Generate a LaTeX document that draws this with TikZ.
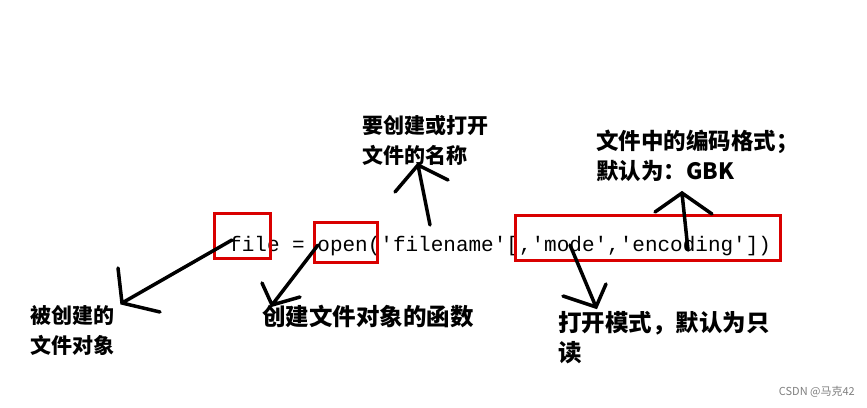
\documentclass[tikz,border=0pt]{standalone}
\usepackage{fontspec}
\newfontfamily\cjk{Noto Sans CJK SC}
\setmonofont{Liberation Mono}
\begin{document}
\begin{tikzpicture}[x=1pt,y=-1pt,
  lbl/.style={font=\cjk\bfseries\fontsize{21}{30}\selectfont, align=left, anchor=north west, inner sep=0pt},
  lblb/.style={lbl, font=\cjk\bfseries\fontsize{23.5}{30}\selectfont},
  rbox/.style={draw=red!85!black, line width=3pt},
  arr/.style={line width=3.5pt, line cap=round}]
\useasboundingbox (0,0) rectangle (867,407);
\fill[white] (0,0) rectangle (867,407);
\node[anchor=base west, inner sep=0pt, font=\ttfamily\fontsize{21}{21}\selectfont] (code) at (229,251) {file = open('filename'[,'mode','encoding'])};
\draw[rbox] (214,213) rectangle (270,258);
\draw[rbox] (314,222) rectangle (377,262);
\draw[rbox] (515,215) rectangle (780,260);
\node[lbl] (t1) at (362,115) {要创建或打开\\文件的名称};
\node[lbl, font=\cjk\bfseries\fontsize{22.5}{30}\selectfont] (t2) at (596,130) {文件中的编码格式；\\默认为：GBK};
\node[lbl] (t3) at (30,305) {被创建的\\文件对象};
\node[lblb] (t4) at (262,305) {创建文件对象的函数};
\node[lblb] (t5) at (558,311) {打开模式，默认为只\\读};
% arrows
\coordinate (a1s) at (232,240); \coordinate (a1t) at (122,303);
\draw[arr] (a1s) -- (a1t) (118,268) -- (a1t) -- (160,312);
\coordinate (a2s) at (318,245); \coordinate (a2t) at (272,305);
\draw[arr] (a2s) -- (a2t) (262,283) -- (a2t) -- (300,297);
\coordinate (a3s) at (430,225); \coordinate (a3t) at (418,165);
\draw[arr] (a3s) -- (a3t) (395,192) -- (a3t) -- (448,180);
\coordinate (a4s) at (688,250); \coordinate (a4t) at (682,193);
\draw[arr] (a4s) -- (a4t) (655,212) -- (a4t) -- (712,214);
\coordinate (a5s) at (570,245); \coordinate (a5t) at (596,307);
\draw[arr] (a5s) -- (a5t) (563,296) -- (a5t) -- (606,284);
\node[anchor=south east, font=\cjk\fontsize{11}{11}\selectfont, text=gray, inner sep=0pt] (wm) at (855,398) {CSDN @马克42};
\end{tikzpicture}
\end{document}
